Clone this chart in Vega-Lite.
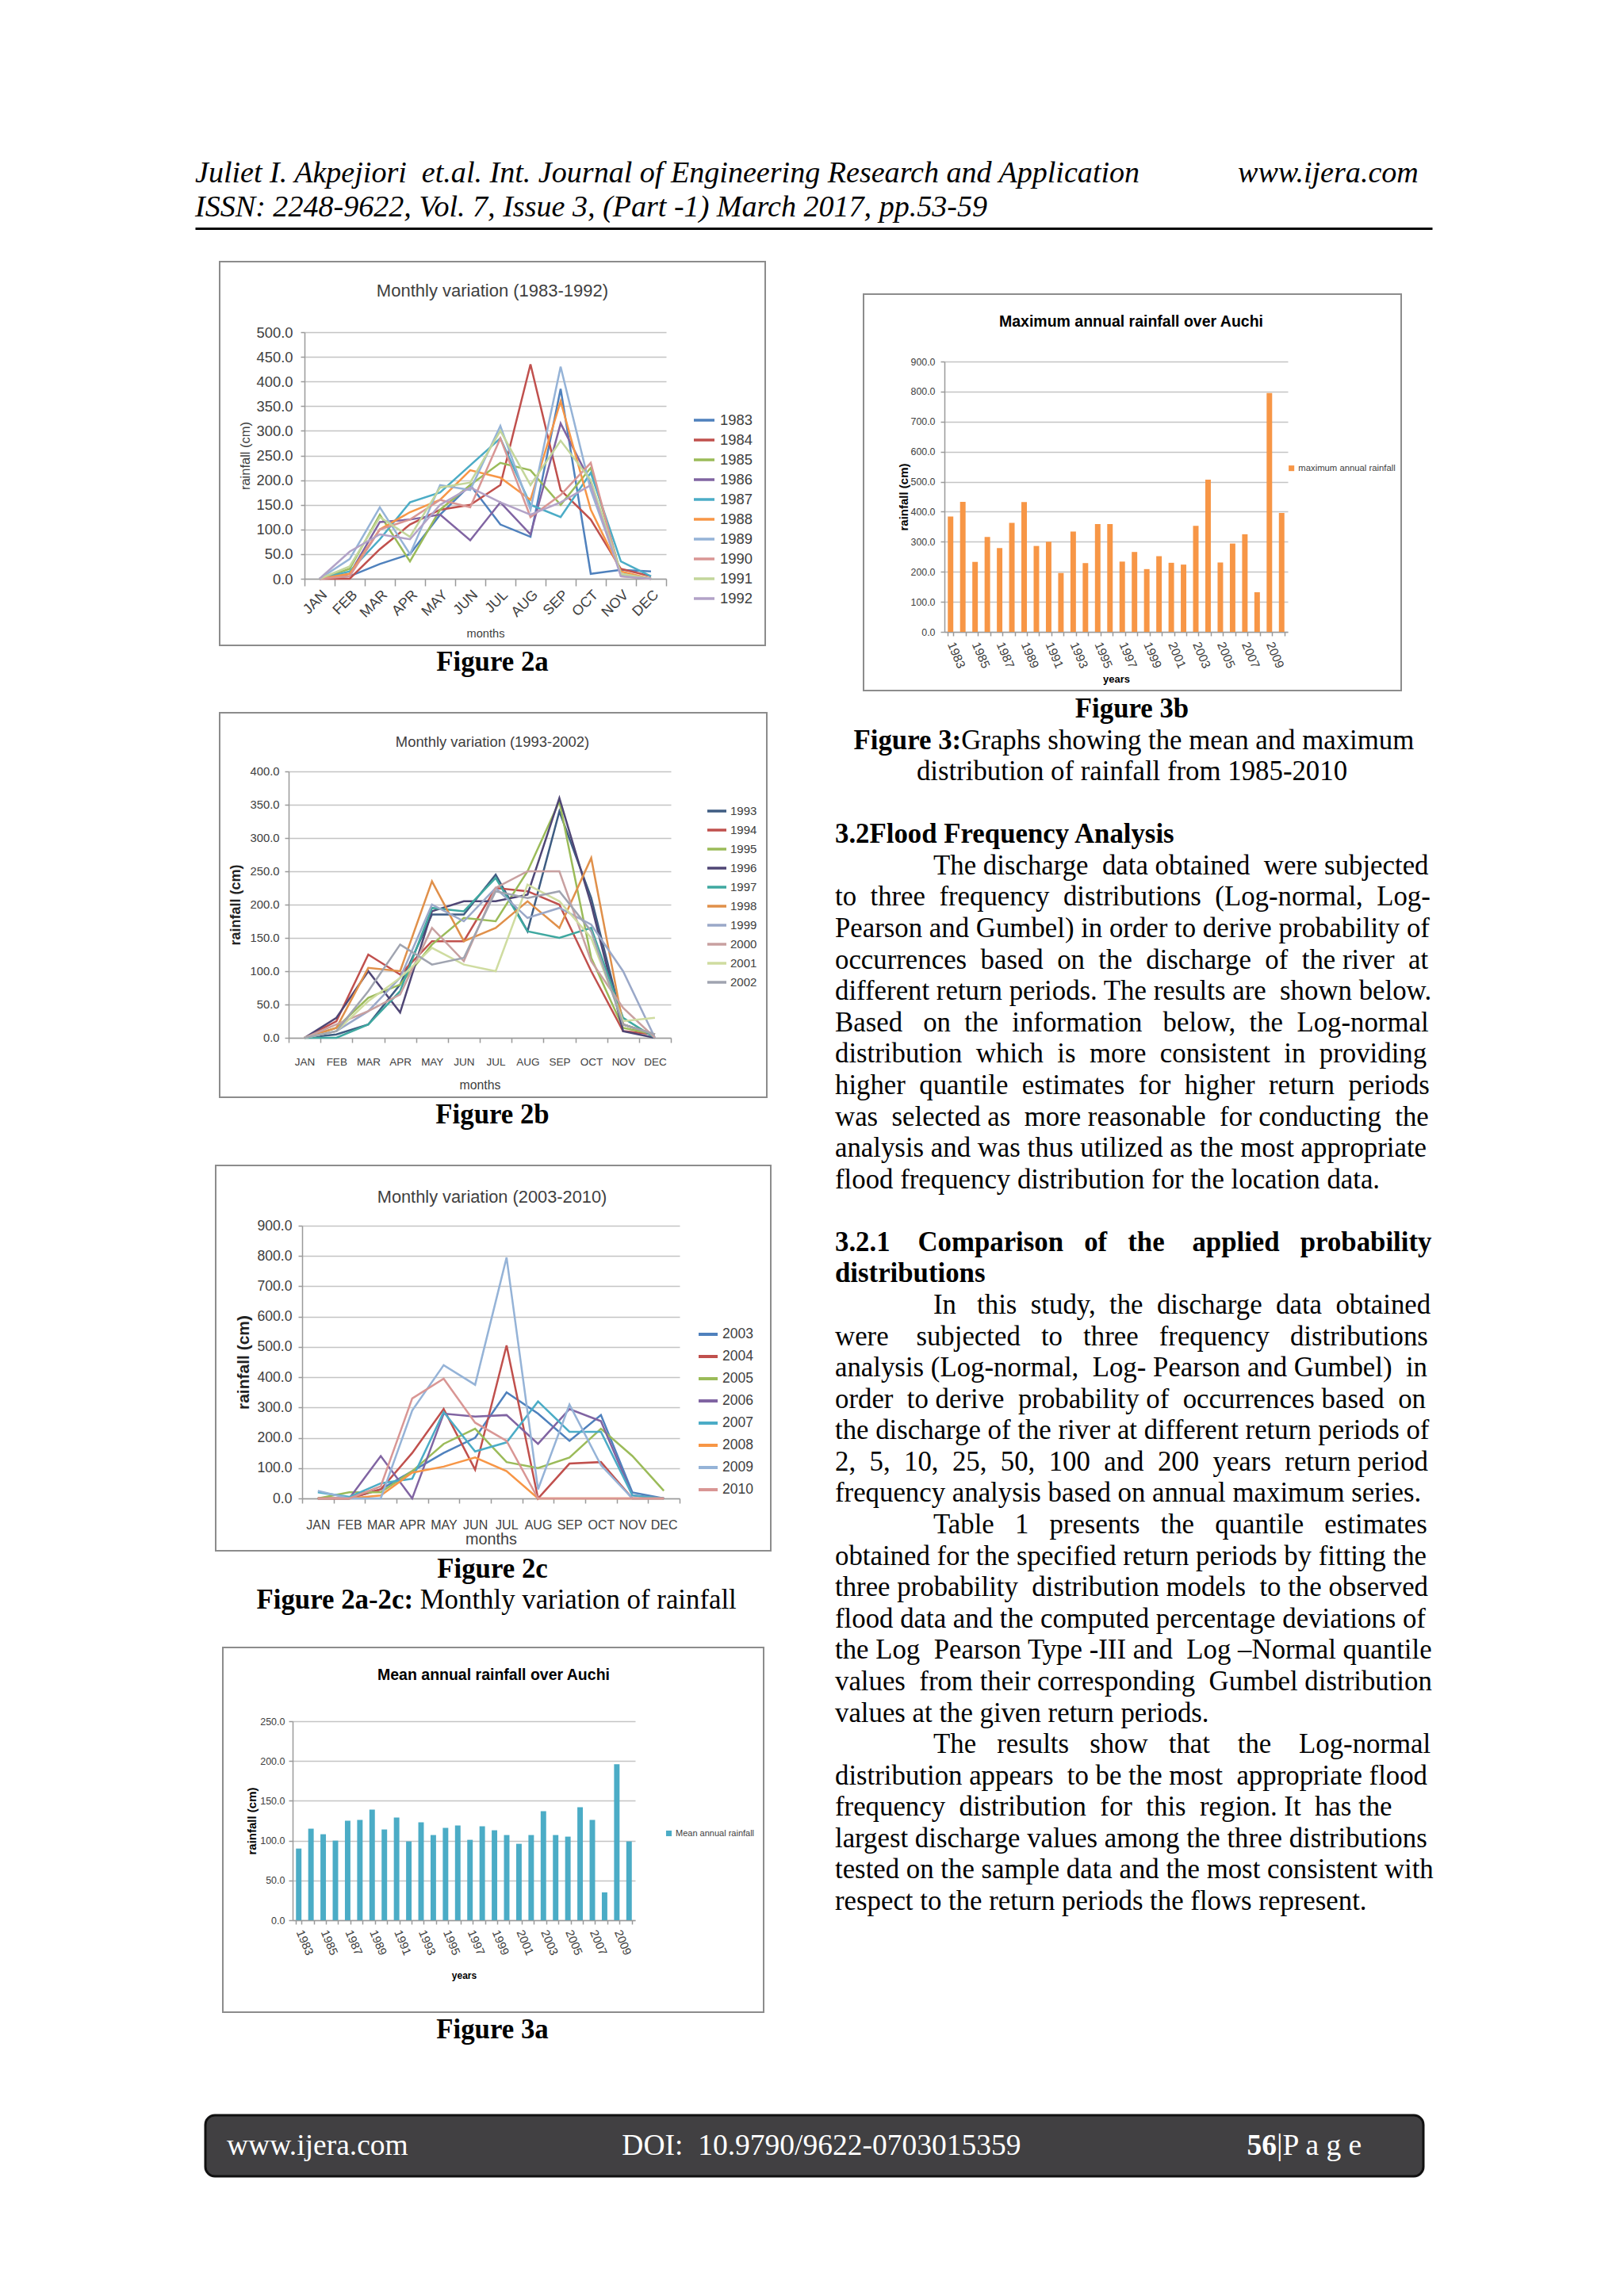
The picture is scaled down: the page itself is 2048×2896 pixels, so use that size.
{
"$schema": "https://vega.github.io/schema/vega-lite/v6.json",
"background": "white",
"padding": {"left": 246, "top": 187, "right": 20, "bottom": 20},
"config": {
 "view": {"stroke": null},
 "concat": {"spacing": 0},
 "axis": {"domainColor": "#9a9a9a", "domainWidth": 1.5, "tickColor": "#9a9a9a", "tickWidth": 1.5, "gridColor": "#c4c4c4", "gridWidth": 1.5, "labelColor": "#404040", "titleColor": "#404040", "labelFont": "Liberation Sans", "titleFont": "Liberation Sans", "titleFontWeight": "normal"},
 "legend": {"labelFont": "Liberation Sans", "labelColor": "#404040", "padding": 0},
 "title": {"font": "Liberation Sans", "color": "#404040", "fontWeight": "normal", "anchor": "middle", "frame": "group"}
},
"datasets": {
 "one": [{"k": 1}],
 "fig2a": [
{"year":"1983","month":"JAN","rainfall":0},{"year":"1983","month":"FEB","rainfall":5},{"year":"1983","month":"MAR","rainfall":30},{"year":"1983","month":"APR","rainfall":50},{"year":"1983","month":"MAY","rainfall":130},{"year":"1983","month":"JUN","rainfall":190},{"year":"1983","month":"JUL","rainfall":110},{"year":"1983","month":"AUG","rainfall":85},{"year":"1983","month":"SEP","rainfall":385},{"year":"1983","month":"OCT","rainfall":10},{"year":"1983","month":"NOV","rainfall":18},{"year":"1983","month":"DEC","rainfall":15},
{"year":"1984","month":"JAN","rainfall":0},{"year":"1984","month":"FEB","rainfall":0},{"year":"1984","month":"MAR","rainfall":60},{"year":"1984","month":"APR","rainfall":110},{"year":"1984","month":"MAY","rainfall":140},{"year":"1984","month":"JUN","rainfall":150},{"year":"1984","month":"JUL","rainfall":190},{"year":"1984","month":"AUG","rainfall":435},{"year":"1984","month":"SEP","rainfall":180},{"year":"1984","month":"OCT","rainfall":120},{"year":"1984","month":"NOV","rainfall":20},{"year":"1984","month":"DEC","rainfall":5},
{"year":"1985","month":"JAN","rainfall":0},{"year":"1985","month":"FEB","rainfall":20},{"year":"1985","month":"MAR","rainfall":130},{"year":"1985","month":"APR","rainfall":35},{"year":"1985","month":"MAY","rainfall":140},{"year":"1985","month":"JUN","rainfall":190},{"year":"1985","month":"JUL","rainfall":235},{"year":"1985","month":"AUG","rainfall":220},{"year":"1985","month":"SEP","rainfall":150},{"year":"1985","month":"OCT","rainfall":225},{"year":"1985","month":"NOV","rainfall":10},{"year":"1985","month":"DEC","rainfall":0},
{"year":"1986","month":"JAN","rainfall":0},{"year":"1986","month":"FEB","rainfall":10},{"year":"1986","month":"MAR","rainfall":115},{"year":"1986","month":"APR","rainfall":120},{"year":"1986","month":"MAY","rainfall":130},{"year":"1986","month":"JUN","rainfall":78},{"year":"1986","month":"JUL","rainfall":155},{"year":"1986","month":"AUG","rainfall":90},{"year":"1986","month":"SEP","rainfall":315},{"year":"1986","month":"OCT","rainfall":195},{"year":"1986","month":"NOV","rainfall":10},{"year":"1986","month":"DEC","rainfall":0},
{"year":"1987","month":"JAN","rainfall":0},{"year":"1987","month":"FEB","rainfall":15},{"year":"1987","month":"MAR","rainfall":80},{"year":"1987","month":"APR","rainfall":155},{"year":"1987","month":"MAY","rainfall":175},{"year":"1987","month":"JUN","rainfall":230},{"year":"1987","month":"JUL","rainfall":285},{"year":"1987","month":"AUG","rainfall":150},{"year":"1987","month":"SEP","rainfall":125},{"year":"1987","month":"OCT","rainfall":215},{"year":"1987","month":"NOV","rainfall":35},{"year":"1987","month":"DEC","rainfall":5},
{"year":"1988","month":"JAN","rainfall":0},{"year":"1988","month":"FEB","rainfall":10},{"year":"1988","month":"MAR","rainfall":100},{"year":"1988","month":"APR","rainfall":135},{"year":"1988","month":"MAY","rainfall":160},{"year":"1988","month":"JUN","rainfall":220},{"year":"1988","month":"JUL","rainfall":205},{"year":"1988","month":"AUG","rainfall":160},{"year":"1988","month":"SEP","rainfall":360},{"year":"1988","month":"OCT","rainfall":140},{"year":"1988","month":"NOV","rainfall":15},{"year":"1988","month":"DEC","rainfall":0},
{"year":"1989","month":"JAN","rainfall":0},{"year":"1989","month":"FEB","rainfall":40},{"year":"1989","month":"MAR","rainfall":145},{"year":"1989","month":"APR","rainfall":50},{"year":"1989","month":"MAY","rainfall":190},{"year":"1989","month":"JUN","rainfall":180},{"year":"1989","month":"JUL","rainfall":310},{"year":"1989","month":"AUG","rainfall":140},{"year":"1989","month":"SEP","rainfall":430},{"year":"1989","month":"OCT","rainfall":180},{"year":"1989","month":"NOV","rainfall":10},{"year":"1989","month":"DEC","rainfall":0},
{"year":"1990","month":"JAN","rainfall":0},{"year":"1990","month":"FEB","rainfall":5},{"year":"1990","month":"MAR","rainfall":100},{"year":"1990","month":"APR","rainfall":120},{"year":"1990","month":"MAY","rainfall":160},{"year":"1990","month":"JUN","rainfall":145},{"year":"1990","month":"JUL","rainfall":285},{"year":"1990","month":"AUG","rainfall":125},{"year":"1990","month":"SEP","rainfall":170},{"year":"1990","month":"OCT","rainfall":235},{"year":"1990","month":"NOV","rainfall":5},{"year":"1990","month":"DEC","rainfall":0},
{"year":"1991","month":"JAN","rainfall":0},{"year":"1991","month":"FEB","rainfall":25},{"year":"1991","month":"MAR","rainfall":125},{"year":"1991","month":"APR","rainfall":85},{"year":"1991","month":"MAY","rainfall":185},{"year":"1991","month":"JUN","rainfall":195},{"year":"1991","month":"JUL","rainfall":300},{"year":"1991","month":"AUG","rainfall":190},{"year":"1991","month":"SEP","rainfall":280},{"year":"1991","month":"OCT","rainfall":200},{"year":"1991","month":"NOV","rainfall":10},{"year":"1991","month":"DEC","rainfall":0},
{"year":"1992","month":"JAN","rainfall":0},{"year":"1992","month":"FEB","rainfall":55},{"year":"1992","month":"MAR","rainfall":90},{"year":"1992","month":"APR","rainfall":80},{"year":"1992","month":"MAY","rainfall":150},{"year":"1992","month":"JUN","rainfall":185},{"year":"1992","month":"JUL","rainfall":155},{"year":"1992","month":"AUG","rainfall":130},{"year":"1992","month":"SEP","rainfall":155},{"year":"1992","month":"OCT","rainfall":190},{"year":"1992","month":"NOV","rainfall":5},{"year":"1992","month":"DEC","rainfall":0}
 ],
 "fig2b": [
{"year":"1993","month":"JAN","rainfall":0},{"year":"1993","month":"FEB","rainfall":5},{"year":"1993","month":"MAR","rainfall":20},{"year":"1993","month":"APR","rainfall":80},{"year":"1993","month":"MAY","rainfall":185},{"year":"1993","month":"JUN","rainfall":185},{"year":"1993","month":"JUL","rainfall":245},{"year":"1993","month":"AUG","rainfall":160},{"year":"1993","month":"SEP","rainfall":340},{"year":"1993","month":"OCT","rainfall":210},{"year":"1993","month":"NOV","rainfall":20},{"year":"1993","month":"DEC","rainfall":5},
{"year":"1994","month":"JAN","rainfall":0},{"year":"1994","month":"FEB","rainfall":25},{"year":"1994","month":"MAR","rainfall":125},{"year":"1994","month":"APR","rainfall":95},{"year":"1994","month":"MAY","rainfall":145},{"year":"1994","month":"JUN","rainfall":145},{"year":"1994","month":"JUL","rainfall":225},{"year":"1994","month":"AUG","rainfall":220},{"year":"1994","month":"SEP","rainfall":200},{"year":"1994","month":"OCT","rainfall":100},{"year":"1994","month":"NOV","rainfall":10},{"year":"1994","month":"DEC","rainfall":5},
{"year":"1995","month":"JAN","rainfall":0},{"year":"1995","month":"FEB","rainfall":15},{"year":"1995","month":"MAR","rainfall":60},{"year":"1995","month":"APR","rainfall":80},{"year":"1995","month":"MAY","rainfall":140},{"year":"1995","month":"JUN","rainfall":180},{"year":"1995","month":"JUL","rainfall":175},{"year":"1995","month":"AUG","rainfall":250},{"year":"1995","month":"SEP","rainfall":355},{"year":"1995","month":"OCT","rainfall":120},{"year":"1995","month":"NOV","rainfall":15},{"year":"1995","month":"DEC","rainfall":5},
{"year":"1996","month":"JAN","rainfall":0},{"year":"1996","month":"FEB","rainfall":30},{"year":"1996","month":"MAR","rainfall":100},{"year":"1996","month":"APR","rainfall":38},{"year":"1996","month":"MAY","rainfall":190},{"year":"1996","month":"JUN","rainfall":205},{"year":"1996","month":"JUL","rainfall":205},{"year":"1996","month":"AUG","rainfall":215},{"year":"1996","month":"SEP","rainfall":360},{"year":"1996","month":"OCT","rainfall":200},{"year":"1996","month":"NOV","rainfall":10},{"year":"1996","month":"DEC","rainfall":0},
{"year":"1997","month":"JAN","rainfall":0},{"year":"1997","month":"FEB","rainfall":0},{"year":"1997","month":"MAR","rainfall":20},{"year":"1997","month":"APR","rainfall":70},{"year":"1997","month":"MAY","rainfall":195},{"year":"1997","month":"JUN","rainfall":190},{"year":"1997","month":"JUL","rainfall":240},{"year":"1997","month":"AUG","rainfall":160},{"year":"1997","month":"SEP","rainfall":150},{"year":"1997","month":"OCT","rainfall":165},{"year":"1997","month":"NOV","rainfall":30},{"year":"1997","month":"DEC","rainfall":0},
{"year":"1998","month":"JAN","rainfall":0},{"year":"1998","month":"FEB","rainfall":15},{"year":"1998","month":"MAR","rainfall":105},{"year":"1998","month":"APR","rainfall":100},{"year":"1998","month":"MAY","rainfall":235},{"year":"1998","month":"JUN","rainfall":145},{"year":"1998","month":"JUL","rainfall":165},{"year":"1998","month":"AUG","rainfall":205},{"year":"1998","month":"SEP","rainfall":165},{"year":"1998","month":"OCT","rainfall":270},{"year":"1998","month":"NOV","rainfall":20},{"year":"1998","month":"DEC","rainfall":5},
{"year":"1999","month":"JAN","rainfall":0},{"year":"1999","month":"FEB","rainfall":10},{"year":"1999","month":"MAR","rainfall":40},{"year":"1999","month":"APR","rainfall":90},{"year":"1999","month":"MAY","rainfall":200},{"year":"1999","month":"JUN","rainfall":175},{"year":"1999","month":"JUL","rainfall":225},{"year":"1999","month":"AUG","rainfall":180},{"year":"1999","month":"SEP","rainfall":195},{"year":"1999","month":"OCT","rainfall":170},{"year":"1999","month":"NOV","rainfall":100},{"year":"1999","month":"DEC","rainfall":0},
{"year":"2000","month":"JAN","rainfall":0},{"year":"2000","month":"FEB","rainfall":20},{"year":"2000","month":"MAR","rainfall":40},{"year":"2000","month":"APR","rainfall":65},{"year":"2000","month":"MAY","rainfall":165},{"year":"2000","month":"JUN","rainfall":115},{"year":"2000","month":"JUL","rainfall":225},{"year":"2000","month":"AUG","rainfall":250},{"year":"2000","month":"SEP","rainfall":250},{"year":"2000","month":"OCT","rainfall":115},{"year":"2000","month":"NOV","rainfall":45},{"year":"2000","month":"DEC","rainfall":0},
{"year":"2001","month":"JAN","rainfall":0},{"year":"2001","month":"FEB","rainfall":10},{"year":"2001","month":"MAR","rainfall":55},{"year":"2001","month":"APR","rainfall":90},{"year":"2001","month":"MAY","rainfall":135},{"year":"2001","month":"JUN","rainfall":110},{"year":"2001","month":"JUL","rainfall":100},{"year":"2001","month":"AUG","rainfall":230},{"year":"2001","month":"SEP","rainfall":205},{"year":"2001","month":"OCT","rainfall":150},{"year":"2001","month":"NOV","rainfall":25},{"year":"2001","month":"DEC","rainfall":30},
{"year":"2002","month":"JAN","rainfall":0},{"year":"2002","month":"FEB","rainfall":10},{"year":"2002","month":"MAR","rainfall":70},{"year":"2002","month":"APR","rainfall":140},{"year":"2002","month":"MAY","rainfall":110},{"year":"2002","month":"JUN","rainfall":120},{"year":"2002","month":"JUL","rainfall":220},{"year":"2002","month":"AUG","rainfall":210},{"year":"2002","month":"SEP","rainfall":220},{"year":"2002","month":"OCT","rainfall":160},{"year":"2002","month":"NOV","rainfall":20},{"year":"2002","month":"DEC","rainfall":5}
 ],
 "fig2c": [
{"year":"2003","month":"JAN","rainfall":0},{"year":"2003","month":"FEB","rainfall":0},{"year":"2003","month":"MAR","rainfall":30},{"year":"2003","month":"APR","rainfall":90},{"year":"2003","month":"MAY","rainfall":150},{"year":"2003","month":"JUN","rainfall":200},{"year":"2003","month":"JUL","rainfall":350},{"year":"2003","month":"AUG","rainfall":280},{"year":"2003","month":"SEP","rainfall":190},{"year":"2003","month":"OCT","rainfall":275},{"year":"2003","month":"NOV","rainfall":20},{"year":"2003","month":"DEC","rainfall":0},
{"year":"2004","month":"JAN","rainfall":0},{"year":"2004","month":"FEB","rainfall":0},{"year":"2004","month":"MAR","rainfall":30},{"year":"2004","month":"APR","rainfall":150},{"year":"2004","month":"MAY","rainfall":295},{"year":"2004","month":"JUN","rainfall":95},{"year":"2004","month":"JUL","rainfall":505},{"year":"2004","month":"AUG","rainfall":0},{"year":"2004","month":"SEP","rainfall":115},{"year":"2004","month":"OCT","rainfall":120},{"year":"2004","month":"NOV","rainfall":0},{"year":"2004","month":"DEC","rainfall":0},
{"year":"2005","month":"JAN","rainfall":0},{"year":"2005","month":"FEB","rainfall":20},{"year":"2005","month":"MAR","rainfall":20},{"year":"2005","month":"APR","rainfall":90},{"year":"2005","month":"MAY","rainfall":180},{"year":"2005","month":"JUN","rainfall":230},{"year":"2005","month":"JUL","rainfall":120},{"year":"2005","month":"AUG","rainfall":100},{"year":"2005","month":"SEP","rainfall":135},{"year":"2005","month":"OCT","rainfall":230},{"year":"2005","month":"NOV","rainfall":140},{"year":"2005","month":"DEC","rainfall":25},
{"year":"2006","month":"JAN","rainfall":0},{"year":"2006","month":"FEB","rainfall":0},{"year":"2006","month":"MAR","rainfall":140},{"year":"2006","month":"APR","rainfall":0},{"year":"2006","month":"MAY","rainfall":280},{"year":"2006","month":"JUN","rainfall":270},{"year":"2006","month":"JUL","rainfall":275},{"year":"2006","month":"AUG","rainfall":180},{"year":"2006","month":"SEP","rainfall":295},{"year":"2006","month":"OCT","rainfall":255},{"year":"2006","month":"NOV","rainfall":10},{"year":"2006","month":"DEC","rainfall":0},
{"year":"2007","month":"JAN","rainfall":20},{"year":"2007","month":"FEB","rainfall":5},{"year":"2007","month":"MAR","rainfall":50},{"year":"2007","month":"APR","rainfall":65},{"year":"2007","month":"MAY","rainfall":285},{"year":"2007","month":"JUN","rainfall":155},{"year":"2007","month":"JUL","rainfall":185},{"year":"2007","month":"AUG","rainfall":320},{"year":"2007","month":"SEP","rainfall":220},{"year":"2007","month":"OCT","rainfall":220},{"year":"2007","month":"NOV","rainfall":10},{"year":"2007","month":"DEC","rainfall":0},
{"year":"2008","month":"JAN","rainfall":0},{"year":"2008","month":"FEB","rainfall":0},{"year":"2008","month":"MAR","rainfall":10},{"year":"2008","month":"APR","rainfall":85},{"year":"2008","month":"MAY","rainfall":105},{"year":"2008","month":"JUN","rainfall":135},{"year":"2008","month":"JUL","rainfall":90},{"year":"2008","month":"AUG","rainfall":0},{"year":"2008","month":"SEP","rainfall":0},{"year":"2008","month":"OCT","rainfall":0},{"year":"2008","month":"NOV","rainfall":0},{"year":"2008","month":"DEC","rainfall":0},
{"year":"2009","month":"JAN","rainfall":25},{"year":"2009","month":"FEB","rainfall":0},{"year":"2009","month":"MAR","rainfall":0},{"year":"2009","month":"APR","rainfall":290},{"year":"2009","month":"MAY","rainfall":440},{"year":"2009","month":"JUN","rainfall":375},{"year":"2009","month":"JUL","rainfall":795},{"year":"2009","month":"AUG","rainfall":30},{"year":"2009","month":"SEP","rainfall":310},{"year":"2009","month":"OCT","rainfall":110},{"year":"2009","month":"NOV","rainfall":0},{"year":"2009","month":"DEC","rainfall":0},
{"year":"2010","month":"JAN","rainfall":0},{"year":"2010","month":"FEB","rainfall":0},{"year":"2010","month":"MAR","rainfall":40},{"year":"2010","month":"APR","rainfall":330},{"year":"2010","month":"MAY","rainfall":395},{"year":"2010","month":"JUN","rainfall":250},{"year":"2010","month":"JUL","rainfall":190},{"year":"2010","month":"AUG","rainfall":0},{"year":"2010","month":"SEP","rainfall":0},{"year":"2010","month":"OCT","rainfall":0},{"year":"2010","month":"NOV","rainfall":0},{"year":"2010","month":"DEC","rainfall":0}
 ],
 "fig3a": [
{"year":1983,"rainfall":90},{"year":1984,"rainfall":115},{"year":1985,"rainfall":108},{"year":1986,"rainfall":100},{"year":1987,"rainfall":125},{"year":1988,"rainfall":126},{"year":1989,"rainfall":139},{"year":1990,"rainfall":114},{"year":1991,"rainfall":129},{"year":1992,"rainfall":99},{"year":1993,"rainfall":123},{"year":1994,"rainfall":107},{"year":1995,"rainfall":116},{"year":1996,"rainfall":119},{"year":1997,"rainfall":101},{"year":1998,"rainfall":118},{"year":1999,"rainfall":113},{"year":2000,"rainfall":107},{"year":2001,"rainfall":96},{"year":2002,"rainfall":107},{"year":2003,"rainfall":137},{"year":2004,"rainfall":107},{"year":2005,"rainfall":105},{"year":2006,"rainfall":142},{"year":2007,"rainfall":126},{"year":2008,"rainfall":35},{"year":2009,"rainfall":196},{"year":2010,"rainfall":99}
 ],
 "fig3b": [
{"year":1983,"rainfall":384},{"year":1984,"rainfall":433},{"year":1985,"rainfall":233},{"year":1986,"rainfall":316},{"year":1987,"rainfall":279},{"year":1988,"rainfall":363},{"year":1989,"rainfall":432},{"year":1990,"rainfall":286},{"year":1991,"rainfall":300},{"year":1992,"rainfall":196},{"year":1993,"rainfall":334},{"year":1994,"rainfall":229},{"year":1995,"rainfall":359},{"year":1996,"rainfall":359},{"year":1997,"rainfall":234},{"year":1998,"rainfall":266},{"year":1999,"rainfall":209},{"year":2000,"rainfall":252},{"year":2001,"rainfall":230},{"year":2002,"rainfall":224},{"year":2003,"rainfall":353},{"year":2004,"rainfall":507},{"year":2005,"rainfall":231},{"year":2006,"rainfall":294},{"year":2007,"rainfall":325},{"year":2008,"rainfall":132},{"year":2009,"rainfall":795},{"year":2010,"rainfall":396}
 ],
 "rtext": [
{"line":0,"kind":"capb","text":"Figure 3b"},
{"line":1,"kind":"splitb","text":"Figure 3:"},
{"line":1,"kind":"splitn","text":"Graphs showing the mean and maximum"},
{"line":2,"kind":"center","text":"distribution of rainfall from 1985-2010"},
{"line":4,"kind":"head","text":"3.2Flood Frequency Analysis"},
{"line":5,"kind":"indent","text":"The discharge \u00a0data obtained \u00a0were subjected"},
{"line":6,"kind":"body","text":"to \u00a0three \u00a0frequency \u00a0distributions \u00a0(Log-normal, \u00a0Log-"},
{"line":7,"kind":"body","text":"Pearson and Gumbel) in order to derive probability of"},
{"line":8,"kind":"body","text":"occurrences \u00a0based \u00a0on \u00a0the \u00a0discharge \u00a0of \u00a0the river \u00a0at"},
{"line":9,"kind":"body","text":"different return periods. The results are \u00a0shown below."},
{"line":10,"kind":"body","text":"Based \u00a0\u00a0on \u00a0the \u00a0information \u00a0\u00a0below, \u00a0the \u00a0Log-normal"},
{"line":11,"kind":"body","text":"distribution \u00a0which \u00a0is \u00a0more \u00a0consistent \u00a0in \u00a0providing"},
{"line":12,"kind":"body","text":"higher \u00a0quantile \u00a0estimates \u00a0for \u00a0higher \u00a0return \u00a0periods"},
{"line":13,"kind":"body","text":"was \u00a0selected as \u00a0more reasonable \u00a0for conducting \u00a0the"},
{"line":14,"kind":"body","text":"analysis and was thus utilized as the most appropriate"},
{"line":15,"kind":"body","text":"flood frequency distribution for the location data."},
{"line":17,"kind":"head","text":"3.2.1\u00a0\u00a0\u00a0\u00a0Comparison\u00a0\u00a0\u00a0of\u00a0\u00a0\u00a0the\u00a0\u00a0\u00a0\u00a0applied\u00a0\u00a0\u00a0probability"},
{"line":18,"kind":"head","text":"distributions"},
{"line":19,"kind":"indent","text":"In \u00a0\u00a0this \u00a0study, \u00a0the \u00a0discharge \u00a0data \u00a0obtained"},
{"line":20,"kind":"body","text":"were \u00a0\u00a0\u00a0subjected \u00a0\u00a0to \u00a0\u00a0three \u00a0\u00a0frequency \u00a0\u00a0distributions"},
{"line":21,"kind":"body","text":"analysis (Log-normal, \u00a0Log- Pearson and Gumbel) \u00a0in"},
{"line":22,"kind":"body","text":"order \u00a0to derive \u00a0probability of \u00a0occurrences based \u00a0on"},
{"line":23,"kind":"body","text":"the discharge of the river at different return periods of"},
{"line":24,"kind":"body","text":"2, \u00a05, \u00a010, \u00a025, \u00a050, \u00a0100 \u00a0and \u00a0200 \u00a0years \u00a0return period"},
{"line":25,"kind":"body","text":"frequency analysis based on annual maximum series."},
{"line":26,"kind":"indent","text":"Table \u00a0\u00a01 \u00a0\u00a0presents \u00a0\u00a0the \u00a0\u00a0quantile \u00a0\u00a0estimates"},
{"line":27,"kind":"body","text":"obtained for the specified return periods by fitting the"},
{"line":28,"kind":"body","text":"three probability \u00a0distribution models \u00a0to the observed"},
{"line":29,"kind":"body","text":"flood data and the computed percentage deviations of"},
{"line":30,"kind":"body","text":"the Log \u00a0Pearson Type -III and \u00a0Log \u2013Normal quantile"},
{"line":31,"kind":"body","text":"values \u00a0from their corresponding \u00a0Gumbel distribution"},
{"line":32,"kind":"body","text":"values at the given return periods."},
{"line":33,"kind":"indent","text":"The \u00a0\u00a0results \u00a0\u00a0show \u00a0\u00a0that \u00a0\u00a0\u00a0the \u00a0\u00a0\u00a0Log-normal"},
{"line":34,"kind":"body","text":"distribution appears \u00a0to be the most \u00a0appropriate flood"},
{"line":35,"kind":"body","text":"frequency \u00a0distribution \u00a0for \u00a0this \u00a0region. It \u00a0has the"},
{"line":36,"kind":"body","text":"largest discharge values among the three distributions"},
{"line":37,"kind":"body","text":"tested on the sample data and the most consistent with"},
{"line":38,"kind":"body","text":"respect to the return periods the flows represent."}
 ]
},
"columns": 2,
"align": "each",
"bounds": "flush",
"spacing": 0,
"resolve": {"scale": {"color": "independent"}, "legend": {"color": "independent"}},
"concat": [
 {
  "width": 689, "height": 95,
  "data": {"values": [
   {"line": "1", "part": "left", "text": "Juliet I. Akpejiori\u00a0 et.al. Int. Journal of Engineering Research and Application"},
   {"line": "1", "part": "right", "text": "www.ijera.com"},
   {"line": "2", "part": "left", "text": "ISSN: 2248-9622, Vol. 7, Issue 3, (Part -1) March 2017, pp.53-59"}
  ]},
  "encoding": {
   "y": {"field": "line", "type": "ordinal", "scale": {"type": "point", "padding": 0.6}, "axis": null},
   "text": {"field": "text"}
  },
  "layer": [
   {"transform": [{"filter": "datum.part == 'left'"}],
    "mark": {"type": "text", "align": "left", "baseline": "middle", "font": "Liberation Serif", "fontStyle": "italic", "fontSize": 38.1, "color": "#000000"},
    "encoding": {"x": {"datum": 0, "type": "quantitative", "scale": {"domain": [0, 1], "range": [-118, 1442], "nice": false, "zero": false}, "axis": {"domain": true, "domainColor": "#000000", "domainWidth": 3, "labels": false, "ticks": false, "grid": false, "title": null}}}},
   {"transform": [{"filter": "datum.part == 'right'"}],
    "mark": {"type": "text", "align": "right", "baseline": "middle", "font": "Liberation Serif", "fontStyle": "italic", "fontSize": 38.1, "color": "#000000"},
    "encoding": {"x": {"datum": 0.989, "type": "quantitative"}}}
  ]
 },
 {"width":1,"height":1,"data":{"name":"one"},"mark":"text","encoding":{"text":{"value":""}}},

 {"width":1,"height":131,"data":{"name":"one"},"mark":{"type":"rect","filled":false,"stroke":"#8c8c8c","strokeWidth":2},
  "encoding":{"x":{"datum":0,"type":"quantitative","scale":{"domain":[0,1],"range":[-87,601],"nice":false,"zero":false},"axis":null},"x2":{"datum":1},
   "y":{"datum":0,"type":"quantitative","scale":{"domain":[0,1],"range":[526,42],"nice":false,"zero":false},"axis":null},"y2":{"datum":1}}},
 {"width":1,"height":1,"data":{"name":"one"},"mark":{"type":"rect","filled":false,"stroke":"#8c8c8c","strokeWidth":2},
  "encoding":{"x":{"datum":0,"type":"quantitative","scale":{"domain":[0,1],"range":[36,714],"nice":false,"zero":false},"axis":null},"x2":{"datum":1},
   "y":{"datum":0,"type":"quantitative","scale":{"domain":[0,1],"range":[583,83],"nice":false,"zero":false},"axis":null},"y2":{"datum":1}}},

 {
  "width": 476, "height": 311,
  "data": {"name": "fig2a"},
  "title": {"text": "Monthly variation (1983-1992)", "fontSize": 22, "offset": 31, "dx": 19},
  "mark": {"type": "line", "strokeWidth": 2.5},
  "encoding": {
   "x": {"field": "month", "type": "ordinal", "sort": ["JAN","FEB","MAR","APR","MAY","JUN","JUL","AUG","SEP","OCT","NOV","DEC"], "bandPosition": 0.5,
    "scale": {"type": "band", "paddingInner": 0, "paddingOuter": 0, "range": [20, 476]},
    "axis": {"title": "months", "titleFontSize": 14.6, "titlePadding": 9, "labelAngle": -45, "labelFontSize": 18, "labelPadding": 2, "tickBand": "extent", "tickSize": 9, "grid": false}},
   "y": {"field": "rainfall", "type": "quantitative", "scale": {"domain": [0, 500], "nice": false},
    "axis": {"offset": -20, "title": "rainfall (cm)", "titleFontSize": 16.5, "titlePadding": 5, "values": [0,50,100,150,200,250,300,350,400,450,500], "format": ".1f", "labelFontSize": 18.4, "tickSize": 5, "labelPadding": 10}},
   "color": {"field": "year", "type": "nominal",
    "scale": {"domain": ["1983","1984","1985","1986","1987","1988","1989","1990","1991","1992"], "range": ["#4F81BD","#C0504D","#9BBB59","#8064A2","#4BACC6","#F79646","#95B3D7","#D99694","#C3D69B","#B2A2C7"]},
    "legend": {"orient": "none", "legendX": 509, "legendY": 96, "title": null, "symbolType": "stroke", "symbolSize": 676, "symbolStrokeWidth": 3.5, "labelFontSize": 18.4, "rowPadding": 0, "labelOffset": 5}}
  }
 },
 {
  "width": 571, "height": 378,
  "data": {"name": "fig3b"},
  "title": {"text": "Maximum annual rainfall over Auchi", "fontSize": 19.5, "fontWeight": "bold", "color": "#000000", "offset": 3, "dx": 88},
  "mark": {"type": "bar"},
  "encoding": {
   "x": {"field": "year", "type": "ordinal", "scale": {"paddingInner": 0.55, "paddingOuter": 0.275, "range": [138, 571]},
    "axis": {"title": "years", "titleFontSize": 13, "titleFontWeight": "bold", "titleColor": "#000000", "titlePadding": 5, "labelAngle": 67, "labelFontSize": 15.5, "labelExpr": "datum.value % 2 == 1 ? datum.label : ''", "tickBand": "extent", "tickSize": 5, "labelPadding": 8}},
   "y": {"field": "rainfall", "type": "quantitative", "scale": {"domain": [0, 900], "nice": false, "range": [378, 37]},
    "axis": {"offset": -138, "title": "rainfall (cm)", "titleFontSize": 15, "titleFontWeight": "bold", "titleColor": "#000000", "titlePadding": 0, "values": [0,100,200,300,400,500,600,700,800,900], "format": ".1f", "labelFontSize": 12.4, "tickSize": 5, "labelPadding": 7}},
   "color": {"datum": "maximum annual rainfall", "type": "nominal", "scale": {"range": ["#F79646"]},
    "legend": {"orient": "none", "legendX": 570, "legendY": 166, "title": null, "symbolType": "square", "symbolSize": 50, "labelFontSize": 11.3, "labelOffset": 3}}
  }
 },

 {"width": 514, "height": 78, "data": {"values": [{"text": "Figure 2a"}]}, "mark": {"type": "text", "font": "Liberation Serif", "fontWeight": "bold", "fontSize": 34.8, "baseline": "middle", "color": "#000000"}, "encoding": {"text": {"field": "text"}}},
 {"width":1,"height":1,"data":{"name":"one"},"mark":"text","encoding":{"text":{"value":""}}},

 {"width":1,"height":98,"data":{"name":"one"},"mark":{"type":"rect","filled":false,"stroke":"#8c8c8c","strokeWidth":2},
  "encoding":{"x":{"datum":0,"type":"quantitative","scale":{"domain":[0,1],"range":[-87,603],"nice":false,"zero":false},"axis":null},"x2":{"datum":1},
   "y":{"datum":0,"type":"quantitative","scale":{"domain":[0,1],"range":[509,24],"nice":false,"zero":false},"axis":null},"y2":{"datum":1}}},
 {
  "width": 749, "height": 1,
  "data": {"name": "rtext"},
  "encoding": {
   "y": {"field": "line", "type": "quantitative", "scale": {"domain": [0, 38], "range": [20, 1524], "nice": false, "zero": false}, "axis": null},
   "text": {"field": "text"}
  },
  "layer": [
   {"transform": [{"filter": "datum.kind == 'body'"}],
    "mark": {"type": "text", "align": "left", "baseline": "middle", "font": "Liberation Serif", "fontSize": 34.8, "color": "#000000"},
    "encoding": {"x": {"datum": 0, "type": "quantitative", "scale": {"domain": [0, 1], "nice": false, "zero": false}, "axis": null}}},
   {"transform": [{"filter": "datum.kind == 'indent'"}],
    "mark": {"type": "text", "align": "left", "baseline": "middle", "font": "Liberation Serif", "fontSize": 34.8, "color": "#000000"},
    "encoding": {"x": {"datum": 0.1656, "type": "quantitative"}}},
   {"transform": [{"filter": "datum.kind == 'head'"}],
    "mark": {"type": "text", "align": "left", "baseline": "middle", "font": "Liberation Serif", "fontWeight": "bold", "fontSize": 34.8, "color": "#000000"},
    "encoding": {"x": {"datum": 0, "type": "quantitative"}}},
   {"transform": [{"filter": "datum.kind == 'capb'"}],
    "mark": {"type": "text", "align": "center", "baseline": "middle", "font": "Liberation Serif", "fontWeight": "bold", "fontSize": 34.8, "color": "#000000"},
    "encoding": {"x": {"datum": 0.5, "type": "quantitative"}}},
   {"transform": [{"filter": "datum.kind == 'center'"}],
    "mark": {"type": "text", "align": "center", "baseline": "middle", "font": "Liberation Serif", "fontSize": 34.8, "color": "#000000"},
    "encoding": {"x": {"datum": 0.5, "type": "quantitative"}}},
   {"transform": [{"filter": "datum.kind == 'splitb'"}],
    "mark": {"type": "text", "align": "right", "baseline": "middle", "font": "Liberation Serif", "fontWeight": "bold", "fontSize": 34.8, "color": "#000000"},
    "encoding": {"x": {"datum": 0.2125, "type": "quantitative"}}},
   {"transform": [{"filter": "datum.kind == 'splitn'"}],
    "mark": {"type": "text", "align": "left", "baseline": "middle", "font": "Liberation Serif", "fontSize": 34.8, "color": "#000000"},
    "encoding": {"x": {"datum": 0.2125, "type": "quantitative"}}}
  ]
 },

 {
  "width": 482, "height": 336,
  "data": {"name": "fig2b"},
  "title": {"text": "Monthly variation (1993-2002)", "fontSize": 18.4, "offset": 20, "dx": 16},
  "mark": {"type": "line", "strokeWidth": 2.5},
  "encoding": {
   "x": {"field": "month", "type": "ordinal", "sort": ["JAN","FEB","MAR","APR","MAY","JUN","JUL","AUG","SEP","OCT","NOV","DEC"], "bandPosition": 0.5,
    "scale": {"type": "band", "paddingInner": 0, "paddingOuter": 0},
    "axis": {"title": "months", "titleFontSize": 15.8, "titlePadding": 16, "labelAngle": 0, "labelFontSize": 13.5, "labelPadding": 17, "tickBand": "extent", "tickSize": 6, "grid": false}},
   "y": {"field": "rainfall", "type": "quantitative", "scale": {"domain": [0, 400], "nice": false},
    "axis": {"title": "rainfall (cm)", "titleFontSize": 18, "titleFontWeight": "bold", "titleColor": "#222222", "titlePadding": 8, "values": [0,50,100,150,200,250,300,350,400], "format": ".1f", "labelFontSize": 14.8, "tickSize": 5, "labelPadding": 7}},
   "color": {"field": "year", "type": "nominal",
    "scale": {"domain": ["1993","1994","1995","1996","1997","1998","1999","2000","2001","2002"], "range": ["#3E5C82","#C0504D","#9BBB59","#4F4675","#3FA8A0","#E0904A","#9AA8C8","#C8A0A0","#CFDCA0","#A0A4B0"]},
    "legend": {"orient": "none", "legendX": 526, "legendY": 36, "title": null, "symbolType": "stroke", "symbolSize": 576, "symbolStrokeWidth": 3.5, "labelFontSize": 15, "rowPadding": 2, "labelOffset": 3}}
  }
 },
 {"width":1,"height":1,"data":{"name":"one"},"mark":"text","encoding":{"text":{"value":""}}},

 {"width": 514, "height": 196, "data": {"values": [{"text": "Figure 2b"}]}, "mark": {"type": "text", "font": "Liberation Serif", "fontWeight": "bold", "fontSize": 34.8, "baseline": "middle", "color": "#000000"}, "encoding": {"text": {"field": "text"}}},
 {"width":1,"height":1,"data":{"name":"one"},"mark":"text","encoding":{"text":{"value":""}}},

 {"width":1,"height":41,"data":{"name":"one"},"mark":{"type":"rect","filled":false,"stroke":"#8c8c8c","strokeWidth":2},
  "encoding":{"x":{"datum":0,"type":"quantitative","scale":{"domain":[0,1],"range":[-92,608],"nice":false,"zero":false},"axis":null},"x2":{"datum":1},
   "y":{"datum":0,"type":"quantitative","scale":{"domain":[0,1],"range":[451,-35],"nice":false,"zero":false},"axis":null},"y2":{"datum":1}}},
 {"width":1,"height":1,"data":{"name":"one"},"mark":"text","encoding":{"text":{"value":""}}},

 {
  "width": 493, "height": 344,
  "data": {"name": "fig2c"},
  "title": {"text": "Monthly variation (2003-2010)", "fontSize": 21.8, "offset": 15, "dx": 10},
  "mark": {"type": "line", "strokeWidth": 2.5},
  "encoding": {
   "x": {"field": "month", "type": "ordinal", "sort": ["JAN","FEB","MAR","APR","MAY","JUN","JUL","AUG","SEP","OCT","NOV","DEC"], "bandPosition": 0.5,
    "scale": {"type": "band", "paddingInner": 0, "paddingOuter": 0, "range": [17, 493]},
    "axis": {"title": "months", "titleFontSize": 19.8, "titlePadding": 0, "labelAngle": 0, "labelFontSize": 16, "labelPadding": 19, "tickBand": "extent", "tickSize": 6, "grid": false}},
   "y": {"field": "rainfall", "type": "quantitative", "scale": {"domain": [0, 900], "nice": false},
    "axis": {"offset": -17, "title": "rainfall (cm)", "titleFontSize": 21, "titleFontWeight": "bold", "titleColor": "#222222", "titlePadding": 6, "values": [0,100,200,300,400,500,600,700,800,900], "format": ".1f", "labelFontSize": 17.6, "tickSize": 5, "labelPadding": 8}},
   "color": {"field": "year", "type": "nominal",
    "scale": {"domain": ["2003","2004","2005","2006","2007","2008","2009","2010"], "range": ["#4F81BD","#C0504D","#9BBB59","#8064A2","#4BACC6","#F79646","#95B3D7","#D99694"]},
    "legend": {"orient": "none", "legendX": 515, "legendY": 123, "title": null, "symbolType": "stroke", "symbolSize": 576, "symbolStrokeWidth": 4, "labelFontSize": 17.5, "rowPadding": 5, "labelOffset": 4}}
  }
 },
 {"width":1,"height":1,"data":{"name":"one"},"mark":"text","encoding":{"text":{"value":""}}},

 {"width":1,"height":90,"data":{"name":"one"},"mark":"text","encoding":{"text":{"value":""}}},
 {"width":1,"height":1,"data":{"name":"one"},"mark":"text","encoding":{"text":{"value":""}}},

 {
  "width": 514, "height": 39,
  "data": {"values": [
   {"line": 0, "kind": "capb", "text": "Figure 2c"},
   {"line": 1, "kind": "splitb", "text": "Figure 2a-2c:"},
   {"line": 1, "kind": "splitn", "text": "Monthly variation of rainfall"}
  ]},
  "encoding": {
   "y": {"field": "line", "type": "quantitative", "scale": {"domain": [0, 1], "reverse": true, "nice": false, "zero": false}, "axis": null},
   "text": {"field": "text"}
  },
  "layer": [
   {"transform": [{"filter": "datum.kind == 'capb'"}],
    "mark": {"type": "text", "align": "center", "baseline": "middle", "font": "Liberation Serif", "fontWeight": "bold", "fontSize": 34.8, "color": "#000000"},
    "encoding": {"x": {"datum": 0.5, "type": "quantitative", "scale": {"domain": [0, 1], "nice": false, "zero": false}, "axis": null}}},
   {"transform": [{"filter": "datum.kind == 'splitb'"}],
    "mark": {"type": "text", "align": "right", "baseline": "middle", "font": "Liberation Serif", "fontWeight": "bold", "fontSize": 34.8, "color": "#000000"},
    "encoding": {"x": {"datum": 0.3054, "type": "quantitative"}}},
   {"transform": [{"filter": "datum.kind == 'splitn'"}],
    "mark": {"type": "text", "align": "left", "baseline": "middle", "font": "Liberation Serif", "fontSize": 34.8, "color": "#000000"},
    "encoding": {"x": {"datum": 0.3223, "type": "quantitative"}}}
  ]
 },
 {"width":1,"height":1,"data":{"name":"one"},"mark":"text","encoding":{"text":{"value":""}}},

 {"width":1,"height":152,"data":{"name":"one"},"mark":{"type":"rect","filled":false,"stroke":"#8c8c8c","strokeWidth":2},
  "encoding":{"x":{"datum":0,"type":"quantitative","scale":{"domain":[0,1],"range":[-83,599],"nice":false,"zero":false},"axis":null},"x2":{"datum":1},
   "y":{"datum":0,"type":"quantitative","scale":{"domain":[0,1],"range":[519,59],"nice":false,"zero":false},"axis":null},"y2":{"datum":1}}},
 {"width":1,"height":1,"data":{"name":"one"},"mark":"text","encoding":{"text":{"value":""}}},

 {
  "width": 437, "height": 251,
  "data": {"name": "fig3a"},
  "title": {"text": "Mean annual rainfall over Auchi", "fontSize": 19.5, "fontWeight": "bold", "color": "#000000", "offset": 42, "dx": 40},
  "mark": {"type": "bar"},
  "encoding": {
   "x": {"field": "year", "type": "ordinal", "scale": {"paddingInner": 0.55, "paddingOuter": 0.275, "range": [5, 437]},
    "axis": {"title": "years", "titleFontSize": 12, "titleFontWeight": "bold", "titleColor": "#000000", "titlePadding": 19, "labelAngle": 67, "labelFontSize": 14.8, "labelExpr": "datum.value % 2 == 1 ? datum.label : ''", "tickBand": "extent", "tickSize": 5, "labelPadding": 8}},
   "y": {"field": "rainfall", "type": "quantitative", "scale": {"domain": [0, 250], "nice": false},
    "axis": {"offset": -5, "title": "rainfall (cm)", "titleFontSize": 15, "titleFontWeight": "bold", "titleColor": "#000000", "titlePadding": 2, "values": [0,50,100,150,200,250], "format": ".1f", "labelFontSize": 12.5, "tickSize": 5, "labelPadding": 5}},
   "color": {"datum": "Mean annual rainfall", "type": "nominal", "scale": {"range": ["#4BACC6"]},
    "legend": {"orient": "none", "legendX": 474, "legendY": 136, "title": null, "symbolType": "square", "symbolSize": 50, "labelFontSize": 11, "labelOffset": 3}}
  }
 },
 {"width":1,"height":1,"data":{"name":"one"},"mark":"text","encoding":{"text":{"value":""}}},

 {"width":1,"height":99,"data":{"name":"one"},"mark":"text","encoding":{"text":{"value":""}}},
 {"width":1,"height":1,"data":{"name":"one"},"mark":"text","encoding":{"text":{"value":""}}},

 {"width": 514, "height": 80, "data": {"values": [{"text": "Figure 3a"}]}, "mark": {"type": "text", "font": "Liberation Serif", "fontWeight": "bold", "fontSize": 34.8, "baseline": "middle", "color": "#000000"}, "encoding": {"text": {"field": "text"}}},
 {"width":1,"height":1,"data":{"name":"one"},"mark":"text","encoding":{"text":{"value":""}}},

 {"width":1,"height":67,"data":{"name":"one"},"mark":"text","encoding":{"text":{"value":""}}},
 {"width":1,"height":1,"data":{"name":"one"},"mark":"text","encoding":{"text":{"value":""}}},

 {
  "width": 689, "height": 77,
  "data": {"values": [
   {"part": "bar", "text": ""},
   {"part": "site", "text": "www.ijera.com"},
   {"part": "doi", "text": "DOI:\u00a0 10.9790/9622-0703015359"},
   {"part": "num", "text": "56"},
   {"part": "page", "text": "|P a g e"}
  ]},
  "layer": [
   {"transform": [{"filter": "datum.part == 'bar'"}],
    "mark": {"type": "rect", "fill": "#414042", "stroke": "#111111", "strokeWidth": 3, "cornerRadius": 12},
    "encoding": {
     "x": {"datum": 0, "type": "quantitative", "scale": {"domain": [0, 1], "range": [-105, 1431], "nice": false, "zero": false}, "axis": null},
     "x2": {"datum": 1},
     "y": {"datum": 0, "type": "quantitative", "scale": {"domain": [0, 1], "nice": false, "zero": false}, "axis": null},
     "y2": {"datum": 1}}},
   {"transform": [{"filter": "datum.part == 'site'"}],
    "mark": {"type": "text", "align": "left", "baseline": "middle", "font": "Liberation Serif", "fontSize": 37.5, "color": "#ffffff"},
    "encoding": {"x": {"datum": 0.0176, "type": "quantitative"}, "y": {"datum": 0.5, "type": "quantitative"}, "text": {"field": "text"}}},
   {"transform": [{"filter": "datum.part == 'doi'"}],
    "mark": {"type": "text", "align": "left", "baseline": "middle", "font": "Liberation Serif", "fontSize": 37.5, "color": "#ffffff"},
    "encoding": {"x": {"datum": 0.342, "type": "quantitative"}, "y": {"datum": 0.5, "type": "quantitative"}, "text": {"field": "text"}}},
   {"transform": [{"filter": "datum.part == 'num'"}],
    "mark": {"type": "text", "align": "right", "baseline": "middle", "font": "Liberation Serif", "fontWeight": "bold", "fontSize": 37.5, "color": "#ffffff"},
    "encoding": {"x": {"datum": 0.8796, "type": "quantitative"}, "y": {"datum": 0.5, "type": "quantitative"}, "text": {"field": "text"}}},
   {"transform": [{"filter": "datum.part == 'page'"}],
    "mark": {"type": "text", "align": "left", "baseline": "middle", "font": "Liberation Serif", "fontSize": 37.5, "color": "#ffffff"},
    "encoding": {"x": {"datum": 0.8796, "type": "quantitative"}, "y": {"datum": 0.5, "type": "quantitative"}, "text": {"field": "text"}}}
  ]
 }
]
}
